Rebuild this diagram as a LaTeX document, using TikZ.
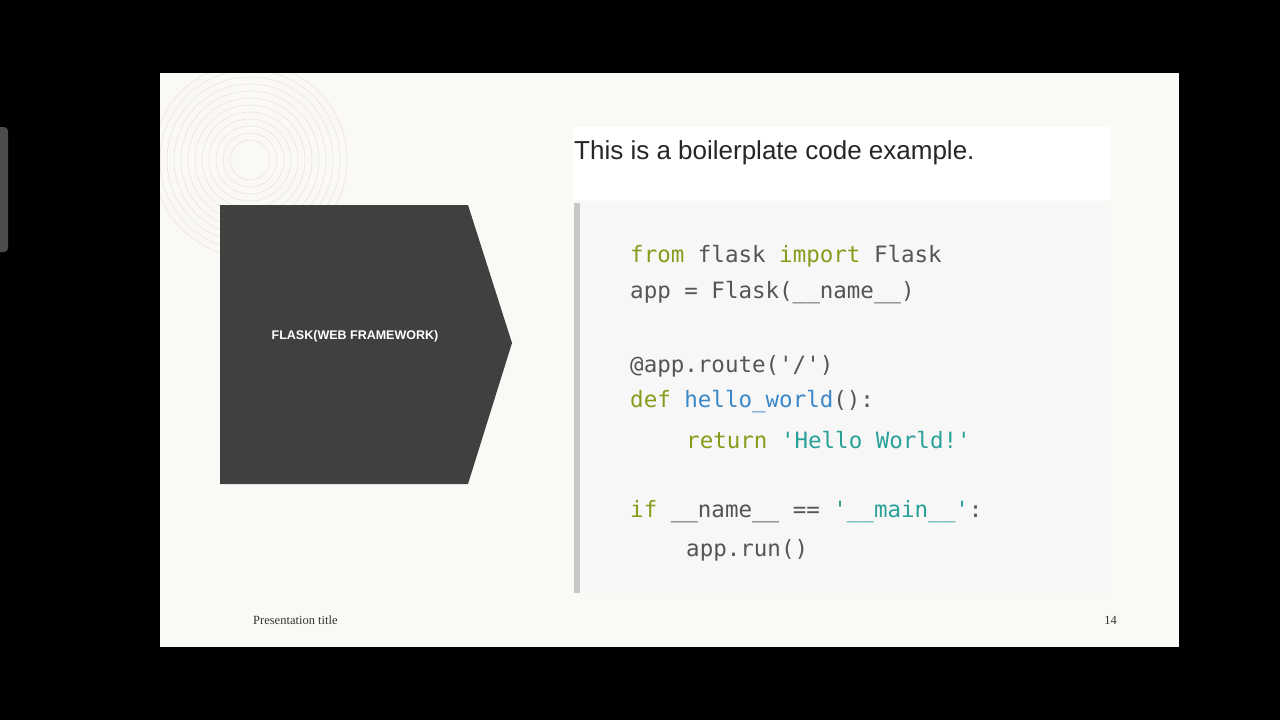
\documentclass[tikz,border=0pt]{standalone}
\usepackage{fontspec}
\setmainfont{Liberation Sans}
\newfontfamily\codefont{DejaVu Sans Mono}
\newfontfamily\footfont{Liberation Serif}
\definecolor{slidebg}{HTML}{FBF9F5}
\definecolor{kw}{HTML}{8A9A1B}
\definecolor{fn}{HTML}{3A87C8}
\definecolor{st}{HTML}{2AA198}
\definecolor{tx}{HTML}{555555}
\definecolor{arcc}{HTML}{E9E6E0}
\tikzset{codeline/.style={anchor=west,inner sep=0pt,font=\codefont\fontsize{22.5}{26}\selectfont,text=tx}}
\begin{document}
\begin{tikzpicture}[x=1pt,y=-1pt]
\useasboundingbox (0,0) rectangle (1280,720);
\fill[black] (0,0) rectangle (1280,720);
\fill[black!70,rounded corners=4pt] (-5,127) rectangle (8,252);
\fill[slidebg] (160,73) rectangle (1179,647);
\begin{scope}
\clip (160,73) rectangle (1179,647);
\foreach \r in {20,27,...,100} \draw[arcc,line width=0.6pt] (250,160) circle (\r);
\end{scope}
\node[fill=black!75,draw=none,inner sep=0pt,minimum size=0pt] (pent) at (220,205) {};
\fill[black!75] (220,205) -- (468,205) -- (512,343) -- (468,484) -- (220,484) -- cycle;
\node[text=white,font=\bfseries\fontsize{12.5}{14}\selectfont] (lbl) at (355,336) {FLASK(WEB FRAMEWORK)};
\fill[white] (573,127) rectangle (1110,200);
\node[anchor=west,inner sep=0pt,font=\fontsize{26}{30}\selectfont,text=black!85] (title) at (574,153) {This is a boilerplate code example.};
\fill[black!3] (574,203) rectangle (1110,593);
\fill[black!22] (574,203) rectangle (580,593);
\node[codeline] (c1) at (630,256) {\textcolor{kw}{from} flask \textcolor{kw}{import} Flask};
\node[codeline] (c2) at (630,293) {app = Flask(\_\_name\_\_)};
\node[codeline] (c3) at (630,366) {@app.route('/')};
\node[codeline] (c4) at (630,402) {\textcolor{kw}{def} \textcolor{fn}{hello\_world}():};
\node[codeline] (c5) at (686,440) {\textcolor{kw}{return} \textcolor{st}{'Hello World!'}};
\node[codeline] (c6) at (630,512) {\textcolor{kw}{if} \_\_name\_\_ == \textcolor{st}{'\_\_main\_\_'}:};
\node[codeline] (c7) at (686,550) {app.run()};
\node[anchor=west,inner sep=0pt,font=\footfont\fontsize{12.5}{14}\selectfont,text=black!80] (ft) at (253,620) {Presentation title};
\node[anchor=east,inner sep=0pt,font=\footfont\fontsize{12.5}{14}\selectfont,text=black!80] (pg) at (1117,620) {14};
\end{tikzpicture}
\end{document}
